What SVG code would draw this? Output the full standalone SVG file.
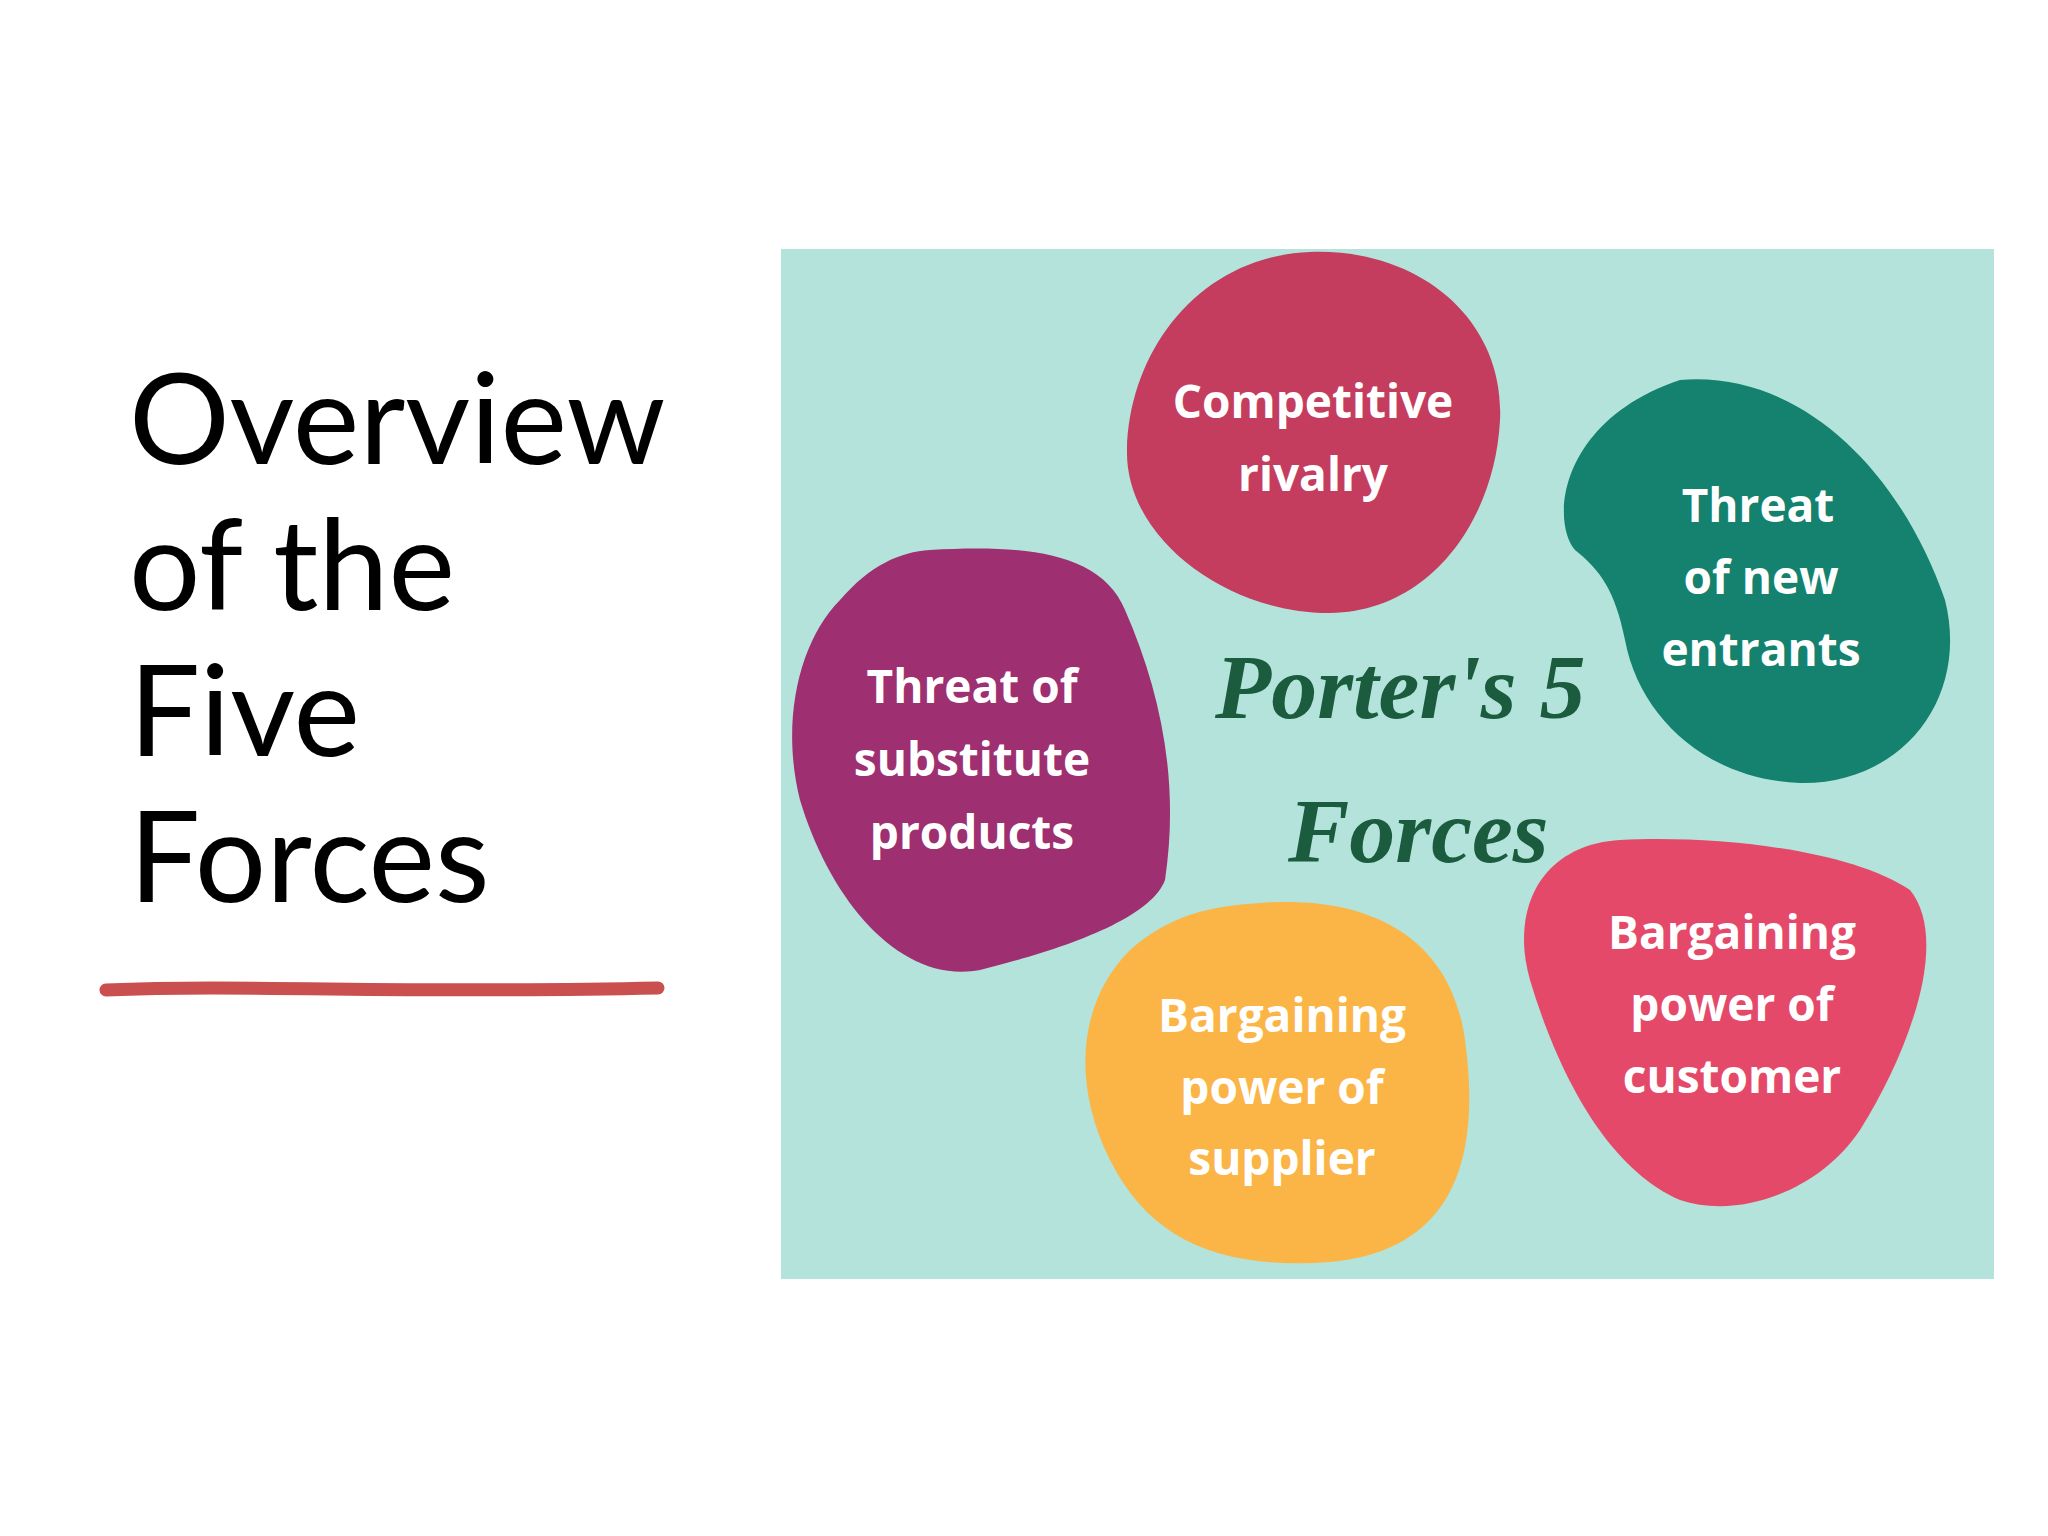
<svg xmlns="http://www.w3.org/2000/svg" width="2048" height="1536" viewBox="0 0 2048 1536">
<style>
.t{font-family:Lato,"Open Sans",sans-serif;font-size:126px;fill:#000}
.b{font-family:"Open Sans","Liberation Sans",sans-serif;font-weight:bold;font-size:46px;fill:#fff;text-anchor:middle}
.p{font-family:"Liberation Serif",serif;font-style:italic;font-weight:bold;font-size:92px;fill:#1b5b3e}
</style>
<rect width="2048" height="1536" fill="#fff"/>
<g id="title">
<text class="t" x="129" y="464">Overview</text>
<text class="t" x="129" y="610">of the</text>
<text class="t" x="129" y="756">Five</text>
<text class="t" x="129" y="902">Forces</text>
<path d="M106,990 C250,984 400,994 658,988" stroke="#c9504f" stroke-width="13" stroke-linecap="round" fill="none"/>
</g>
<rect id="panel" x="781" y="249" width="1213" height="1030" fill="#b3e3da"/>
<g id="rivalry">
<path d="M1310,252 C1420,248 1505,320 1500,420 C1495,520 1430,612 1330,613 C1230,614 1125,540 1127,450 C1129,350 1200,256 1310,252 Z" fill="#c43d5e"/>
<text class="b" x="1313" y="418">Competitive</text>
<text class="b" x="1313" y="491">rivalry</text>
</g>
<g id="entrants">
<path d="M1680,380 C1800,370 1900,470 1945,600 C1970,700 1900,785 1800,783 C1710,780 1640,720 1625,640 C1615,590 1600,570 1575,550 C1550,520 1560,420 1680,380 Z" fill="#14826e"/>
<text class="b" x="1758" y="522">Threat</text>
<text class="b" x="1761" y="594">of new</text>
<text class="b" x="1761" y="666">entrants</text>
</g>
<g id="substitute">
<path d="M930,550 C1020,545 1100,550 1125,610 C1160,690 1180,780 1165,880 C1150,920 1060,950 980,970 C900,985 830,900 800,800 C780,720 800,640 840,600 C870,565 900,552 930,550 Z" fill="#9e2f70"/>
<text class="b" x="972" y="703">Threat of</text>
<text class="b" x="972" y="776">substitute</text>
<text class="b" x="972" y="849">products</text>
</g>
<g id="supplier">
<path d="M1260,903 C1360,895 1450,930 1465,1040 C1480,1150 1460,1250 1330,1262 C1220,1270 1150,1240 1110,1160 C1070,1080 1080,1000 1130,950 C1170,915 1210,906 1260,903 Z" fill="#fbb547"/>
<text class="b" x="1282" y="1032">Bargaining</text>
<text class="b" x="1282" y="1104">power of</text>
<text class="b" x="1282" y="1175">supplier</text>
</g>
<g id="customer">
<path d="M1620,840 C1720,835 1850,850 1910,890 C1950,940 1910,1050 1860,1130 C1820,1190 1740,1220 1680,1200 C1610,1170 1560,1080 1530,980 C1510,910 1540,845 1620,840 Z" fill="#e5496a"/>
<text class="b" x="1732" y="949">Bargaining</text>
<text class="b" x="1732" y="1021">power of</text>
<text class="b" x="1732" y="1093">customer</text>
</g>
<g id="center">
<text class="p" x="1215" y="718">Porter's 5</text>
<text class="p" x="1288" y="862">Forces</text>
</g>
<g id="connectors"/>
</svg>
